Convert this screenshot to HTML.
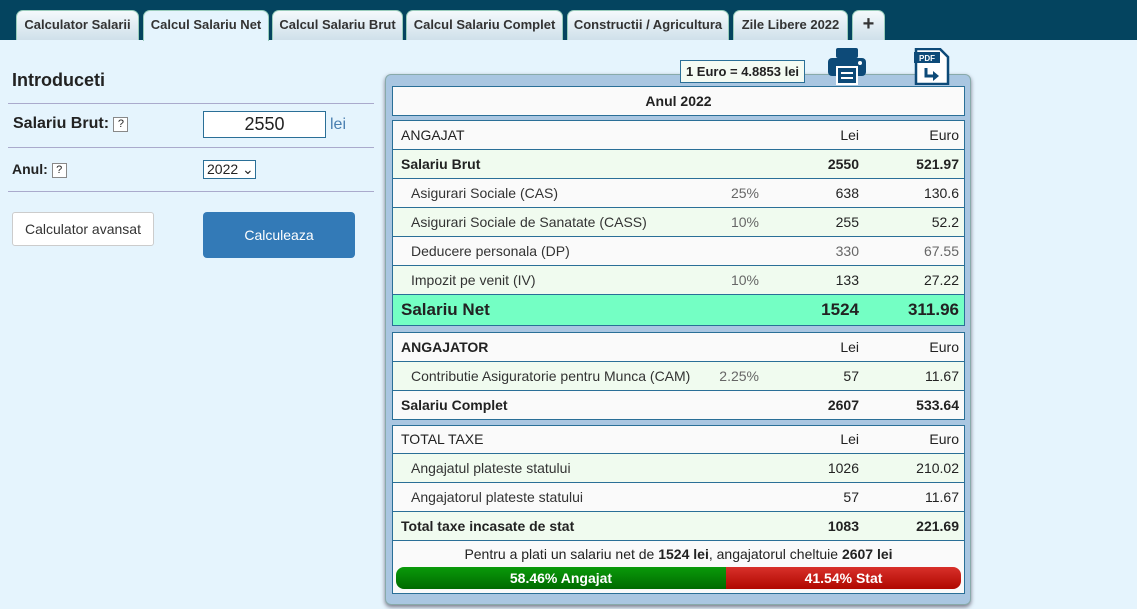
<!DOCTYPE html>
<html><head><meta charset="utf-8"><style>
*{margin:0;padding:0;box-sizing:border-box}
body{width:1137px;height:609px;overflow:hidden;background:#e5f4fd;font-family:"Liberation Sans",Arial,sans-serif;color:#222;position:relative}
.top{position:absolute;left:0;top:0;width:1137px;height:40px;background:#04445f}
.tab{position:absolute;top:10px;height:30px;border-radius:7px 7px 0 0;background:linear-gradient(#f4f9fc,#cfe0ea);border:1px solid #9cb;border-bottom:none;font-size:13px;font-weight:bold;color:#333;text-align:center;line-height:27px;white-space:nowrap}
.tab.act{background:#e5f4fd;height:31px}
.a{position:absolute}
.box{position:absolute;left:385px;top:74px;width:586px;height:531px;background:#a9c6e1;border-radius:6px;box-shadow:0 2px 4px #778;border:1px solid #8aa}
.sec{position:absolute;left:392px;width:573px;border:1px solid #2a6f97;background:#fafafa}
.r{position:absolute;left:0;width:571px;border-bottom:1px solid #2a6f97;font-size:14px}
.r span{position:absolute;top:0}
.g{background:#f0fbef}
.b{font-weight:bold}
.l{left:8px}.li{left:18px;color:#333}
.p{right:205px;color:#666}.le{right:105px;text-align:right}.eu{right:5px;text-align:right}
.q{display:inline-block;width:15px;height:15px;border:1px solid #888;font-size:11px;line-height:13px;text-align:center;font-weight:normal;background:#fff;vertical-align:1px}
</style></head><body>
<div class="top"></div>
<div class="tab" style="left:16px;width:123px">Calculator Salarii</div>
<div class="tab act" style="left:143px;width:126px">Calcul Salariu Net</div>
<div class="tab" style="left:272px;width:131px">Calcul Salariu Brut</div>
<div class="tab" style="left:406px;width:157px">Calcul Salariu Complet</div>
<div class="tab" style="left:567px;width:162px">Constructii / Agricultura</div>
<div class="tab" style="left:733px;width:115px">Zile Libere 2022</div>
<div class="tab" style="left:852px;width:33px;font-size:20px">+</div>

<div class="a" style="left:12px;top:70px;font-size:18px;font-weight:bold">Introduceti</div>
<div class="a" style="left:8px;top:103px;width:366px;border-top:1px solid #aac"></div>
<div class="a" style="left:13px;top:115px;font-size:16px;font-weight:bold">Salariu Brut: <span class="q">?</span></div>
<div class="a" style="left:203px;top:111px;width:123px;height:27px;background:#fff;border:1px solid #2a6f97;font-size:18px;text-align:center;line-height:25px">2550</div>
<div class="a" style="left:330px;top:116px;font-size:16px;color:#4a7fb0">lei</div>
<div class="a" style="left:8px;top:147px;width:366px;border-top:1px solid #aac"></div>
<div class="a" style="left:12px;top:161px;font-size:14px;font-weight:bold">Anul: <span class="q">?</span></div>
<div class="a" style="left:203px;top:160px;width:53px;height:19px;border:1px solid #2a6f97;background:#fff;font-size:14px;line-height:17px;padding-left:3px">2022 &#8964;</div>
<div class="a" style="left:8px;top:191px;width:366px;border-top:1px solid #aac"></div>
<div class="a" style="left:12px;top:212px;width:142px;height:34px;background:#fff;border:1px solid #ccc;border-radius:3px;font-size:14px;text-align:center;line-height:32px;color:#333">Calculator avansat</div>
<div class="a" style="left:203px;top:212px;width:152px;height:46px;background:#337ab7;border-radius:4px;color:#fff;font-size:14px;text-align:center;line-height:46px">Calculeaza</div>

<div class="box"></div>
<div class="a" style="left:680px;top:60px;width:125px;height:23px;background:#f4fbf3;border:1px solid #2a6f97;font-size:13px;font-weight:bold;text-align:center;line-height:21px">1 Euro = 4.8853 lei</div>
<svg class="a" style="left:828px;top:48px" width="38" height="37" viewBox="0 0 38 37"><rect x="8" y="0" width="22" height="10" rx="2" fill="#0d4a78"/><rect x="0" y="10" width="38" height="18" rx="4" fill="#0d4a78"/><rect x="8" y="18" width="22" height="19" fill="#fff"/><rect x="10" y="20" width="18" height="15" fill="#0d4a78"/><rect x="13" y="24" width="12" height="2" fill="#fff"/><rect x="13" y="29" width="12" height="2" fill="#fff"/><circle cx="32" cy="15" r="2" fill="#fff"/></svg>
<svg class="a" style="left:914px;top:48px" width="36" height="37" viewBox="0 0 36 37"><path d="M2 1H26L34 9V36H2Z" fill="#fff" stroke="#0d4a78" stroke-width="2.5"/><rect x="0" y="4" width="26" height="11" fill="#0d4a78"/><text x="13" y="13" font-size="8" font-weight="bold" fill="#fff" text-anchor="middle" font-family="Liberation Sans">PDF</text><path d="M12 20v8h10" fill="none" stroke="#0d4a78" stroke-width="3"/><path d="M19 23l6 5-6 5z" fill="#0d4a78"/></svg>

<div class="sec" style="top:86px;height:30px;font-size:14px;font-weight:bold;text-align:center;line-height:28px">Anul 2022</div>

<div class="sec" style="top:120px;height:206px">
<div class="r" style="top:0;height:29px;line-height:28px"><span class="l">ANGAJAT</span><span class="le">Lei</span><span class="eu">Euro</span></div>
<div class="r g b" style="top:29px;height:29px;line-height:28px"><span class="l">Salariu Brut</span><span class="le">2550</span><span class="eu">521.97</span></div>
<div class="r" style="top:58px;height:29px;line-height:28px"><span class="li">Asigurari Sociale (CAS)</span><span class="p">25%</span><span class="le">638</span><span class="eu">130.6</span></div>
<div class="r g" style="top:87px;height:29px;line-height:28px"><span class="li">Asigurari Sociale de Sanatate (CASS)</span><span class="p">10%</span><span class="le">255</span><span class="eu">52.2</span></div>
<div class="r" style="top:116px;height:29px;line-height:28px;color:#555"><span class="li">Deducere personala (DP)</span><span class="le" style="color:#666">330</span><span class="eu" style="color:#666">67.55</span></div>
<div class="r g" style="top:145px;height:29px;line-height:28px"><span class="li">Impozit pe venit (IV)</span><span class="p">10%</span><span class="le">133</span><span class="eu">27.22</span></div>
<div class="r b" style="top:174px;height:30px;line-height:30px;background:#74ffc4;font-size:17px;border-bottom:none"><span class="l">Salariu Net</span><span class="le">1524</span><span class="eu">311.96</span></div>
</div>

<div class="sec" style="top:332px;height:88px">
<div class="r b" style="top:0;height:29px;line-height:28px"><span class="l">ANGAJATOR</span><span class="le" style="font-weight:normal">Lei</span><span class="eu" style="font-weight:normal">Euro</span></div>
<div class="r g" style="top:29px;height:29px;line-height:28px"><span class="li">Contributie Asiguratorie pentru Munca (CAM)</span><span class="p">2.25%</span><span class="le">57</span><span class="eu">11.67</span></div>
<div class="r b" style="top:58px;height:28px;line-height:28px;border-bottom:none"><span class="l">Salariu Complet</span><span class="le">2607</span><span class="eu">533.64</span></div>
</div>

<div class="sec" style="top:425px;height:169px">
<div class="r" style="top:0;height:28px;line-height:27px"><span class="l">TOTAL TAXE</span><span class="le">Lei</span><span class="eu">Euro</span></div>
<div class="r g" style="top:28px;height:29px;line-height:28px"><span class="li">Angajatul plateste statului</span><span class="le">1026</span><span class="eu">210.02</span></div>
<div class="r" style="top:57px;height:29px;line-height:28px"><span class="li">Angajatorul plateste statului</span><span class="le">57</span><span class="eu">11.67</span></div>
<div class="r g b" style="top:86px;height:29px;line-height:28px"><span class="l">Total taxe incasate de stat</span><span class="le">1083</span><span class="eu">221.69</span></div>
<div class="a" style="left:0;top:120px;width:571px;text-align:center;font-size:14px">Pentru a plati un salariu net de <b>1524 lei</b>, angajatorul cheltuie <b>2607 lei</b></div>
<div class="a" style="left:3px;top:141px;width:565px;height:22px;border-radius:8px;overflow:hidden;font-size:14px;font-weight:bold;color:#fff;line-height:22px;text-align:center">
<div class="a" style="left:0;top:0;width:330px;height:22px;background:linear-gradient(#0a9a0a,#006a00)">58.46% Angajat</div>
<div class="a" style="left:330px;top:0;width:235px;height:22px;background:linear-gradient(#d8302a,#b00800)">41.54% Stat</div>
</div>
</div>
</body></html>
